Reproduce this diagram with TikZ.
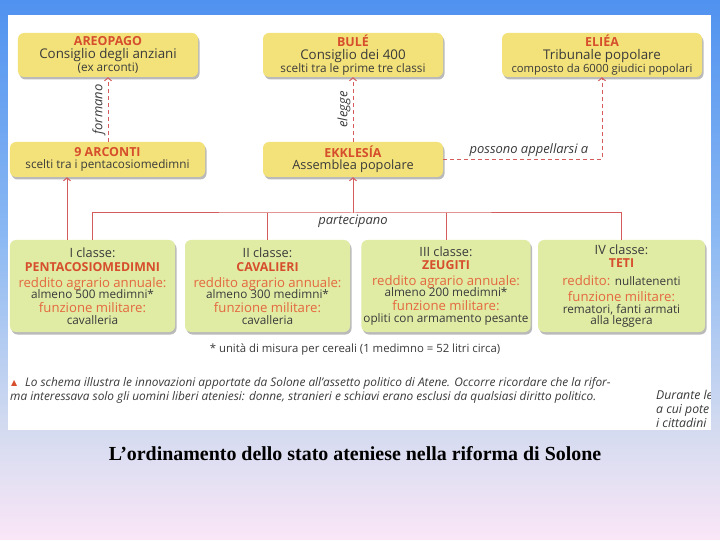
\documentclass[tikz,border=0pt]{standalone}
\usepackage{fontspec}
\setmainfont{Open Sans}
\newfontfamily\titlefont{Liberation Serif}
\newfontfamily\notefont{Open Sans}
\newfontfamily\symfont{DejaVu Sans}
\usetikzlibrary{arrows.meta,shadows,positioning}

\definecolor{bgblue}{RGB}{80,146,240}
\definecolor{bgmid}{RGB}{140,185,243}
\definecolor{bglav}{RGB}{212,219,240}
\definecolor{bgpink}{RGB}{250,230,247}
\definecolor{boxyellow}{RGB}{243,226,122}
\definecolor{boxgreen}{RGB}{224,235,164}
\definecolor{headred}{RGB}{214,78,44}
\definecolor{subred}{RGB}{228,104,62}
\definecolor{linered}{RGB}{212,92,92}
\definecolor{textgray}{RGB}{58,58,58}

% path runs from 25bp (bottom) to 75bp (top) of the shading
\pgfdeclareverticalshading{slidebg}{100bp}{color(0bp)=(bgpink); color(25bp)=(bgpink);
  color(35.2bp)=(bglav); color(52.8bp)=(bgmid); color(75bp)=(bgblue); color(100bp)=(bgblue)}

\newcommand{\boxhead}[1]{{\fontsize{12.5}{12}\selectfont\bfseries\color{headred}#1}}
\newcommand{\classhead}[1]{{\fontsize{12.4}{12}\selectfont\bfseries\color{headred}#1}}
\newcommand{\boxsub}[1]{{\fontsize{13.2}{13}\selectfont\color{subred}#1}}
\newcommand{\boxval}[1]{{\fontsize{11.8}{11}\selectfont #1}}
\newcommand{\tightlines}{\lineskiplimit=-20pt\lineskip=0pt}

\tikzset{
  panel/.style={rounded corners=6bp, align=center, text=textgray, inner sep=2bp,
    drop shadow={shadow xshift=1.5bp, shadow yshift=-2.5bp, opacity=.45, fill=black!60}},
  ybox/.style={panel, fill=boxyellow, font=\fontsize{13.4}{12.5}\selectfont\tightlines},
  gbox/.style={panel, fill=boxgreen, minimum width=165bp, minimum height=92bp,
    font=\fontsize{12.8}{12}\selectfont\tightlines},
  link/.style={linered, line width=1bp},
  dlink/.style={link, dash pattern=on 4bp off 3bp},
  tip/.style={-{Straight Barb[length=3bp,width=7bp]}},
  lbl/.style={font=\fontsize{13}{13}\selectfont\itshape, text=textgray, inner sep=2bp},
}

\begin{document}
\begin{tikzpicture}[x=1bp, y=-1bp]
  % slide background and scanned page
  \shade[shading=slidebg] (0,0) rectangle (720,540);
  \useasboundingbox (0,0) rectangle (720,540);
  \fill[white] (8,15) rectangle (711,430);

  % organs of the state
  \node[ybox, minimum width=180bp, minimum height=44bp] (areopago) at (108,55)
    {\boxhead{AREOPAGO}\\ Consiglio degli anziani\\[0.5bp] \boxval{(ex arconti)}};
  \node[ybox, minimum width=180bp, minimum height=44bp] (bule) at (353,55)
    {\boxhead{BULÉ}\\ Consiglio dei 400\\[0.5bp] \boxval{scelti tra le prime tre classi}};
  \node[ybox, minimum width=200bp, minimum height=44bp] (eliea) at (602,55)
    {\boxhead{ELIÉA}\\ Tribunale popolare\\[0.5bp] \fontsize{11.3}{11}\selectfont composto da 6000 giudici popolari};
  \node[ybox, minimum width=195bp, minimum height=35bp] (arconti) at (107.5,159.5)
    {\boxhead{9 ARCONTI}\\ \boxval{scelti tra i pentacosiomedimni}};
  \node[ybox, minimum width=180bp, minimum height=35bp] (ekklesia) at (353,159.5)
    {\boxhead{EKKLESÍA}\\ \fontsize{12.8}{12}\selectfont Assemblea popolare};

  % the four classes
  \node[gbox] (pentaco) at (92.5,286)
    {I classe:\\[2bp] \classhead{PENTACOSIOMEDIMNI}\\[4bp] \boxsub{reddito agrario annuale:}\\[-1bp]
     \boxval{almeno 500 medimni*}\\[2bp] \boxsub{funzione militare:}\\ \boxval{cavalleria}};
  \node[gbox] (cavalieri) at (267.5,286)
    {II classe:\\[2bp] \classhead{CAVALIERI}\\[4bp] \boxsub{reddito agrario annuale:}\\[-1bp]
     \boxval{almeno 300 medimni*}\\[2bp] \boxsub{funzione militare:}\\ \boxval{cavalleria}};
  \node[gbox, minimum width=168bp] (zeugiti) at (446,286)
    {III classe:\\[2bp] \classhead{ZEUGITI}\\[4bp] \boxsub{reddito agrario annuale:}\\[-1bp]
     \boxval{almeno 200 medimni*}\\[2bp] \boxsub{funzione militare:}\\ \boxval{opliti con armamento pesante}};
  \node[gbox, minimum width=167bp] (teti) at (621.5,286)
    {IV classe:\\[2bp] \classhead{TETI}\\[6bp] \boxsub{reddito:} \boxval{nullatenenti}\\[4bp]
     \boxsub{funzione militare:}\\ \boxval{rematori, fanti armati}\\[-1bp] \boxval{alla leggera}};

  % connectors
  \draw[link,tip] ([xshift=-25.5bp]pentaco.north) -- ([xshift=-25.5bp]pentaco.north |- arconti.south);
  \coordinate (bus) at (353,213);
  \draw[link] (pentaco.north) |- (bus) -| (teti.north);
  \draw[link] (cavalieri.north) -- (cavalieri.north |- bus);
  \draw[link] (zeugiti.north) -- (zeugiti.north |- bus);
  \draw[link,tip] (bus) -- (ekklesia.south);
  \node[lbl, below=0bp of bus] (partecipano) {partecipano};

  \draw[dlink,tip] (arconti.north -| areopago.south) -- (areopago.south)
    node[midway, lbl, rotate=90, above] {formano};
  \draw[dlink,tip] (ekklesia.north) -- (bule.south)
    node[midway, lbl, rotate=90, above] {elegge};
  \draw[dlink,tip] (ekklesia.east) -| (eliea.south)
    node[pos=0.27, lbl, above] {possono appellarsi a};

  % notes of the page
  \node[font=\fontsize{11.4}{12}\selectfont, text=textgray] (footnote) at (355,350)
    {* unità di misura per cereali (1 medimno = 52 litri circa)};
  \node[anchor=west, inner sep=0pt, text=headred, font=\symfont\fontsize{8}{8}\selectfont] (tri) at (11,383) {▲};
  \node[anchor=west, inner sep=0pt, text=textgray, font=\notefont\itshape\fontsize{11.9}{14}\selectfont] (caption) at (25,383)
    {Lo schema illustra le innovazioni apportate da Solone all’assetto politico di Atene. Occorre ricordare che la rifor-};
  \node[anchor=west, inner sep=0pt, text=textgray, font=\notefont\itshape\fontsize{11.9}{14}\selectfont] (caption2) at (10,397)
    {ma interessava solo gli uomini liberi ateniesi: donne, stranieri e schiavi erano esclusi da qualsiasi diritto politico.};
  \begin{scope}
    \clip (640,385) rectangle (710,432);
    \node[anchor=north west, inner sep=0pt, text=textgray, align=left,
      font=\notefont\itshape\fontsize{12.3}{14}\selectfont] (durante) at (656,390)
      {Durante le\\ a cui pote\\ i cittadini};
  \end{scope}

  % title of the slide
  \node[font=\titlefont\bfseries\fontsize{20}{24}\selectfont] (title) at (355,454)
    {L’ordinamento dello stato ateniese nella riforma di Solone};
\end{tikzpicture}
\end{document}
